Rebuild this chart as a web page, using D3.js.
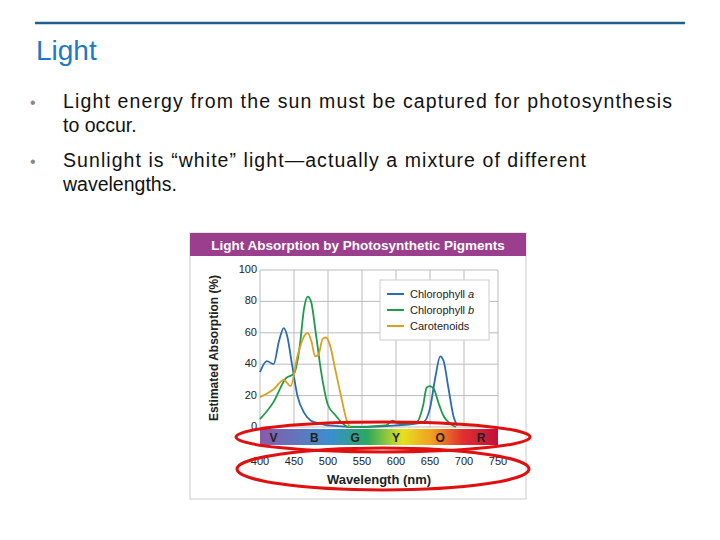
<!DOCTYPE html><html><head><meta charset="utf-8"><script src="https://cdn.jsdelivr.net/npm/d3@7"></script>
<style>body{margin:0;background:#fff}svg{font-family:Arial,"Liberation Sans",sans-serif}</style></head><body><svg id="s" width="720" height="540"></svg>
<script>
const xTicks=[400,450,500,550,600,650,700,750];
const yTicks=[0,20,40,60,80,100];
const chlA=[[400,35],[410,42],[420,40],[428,55],[435,63],[440,58],[447,40],[455,20],[465,9],[475,4],[490,2],[500,1],[550,0],[600,1],[640,3],[650,12],[658,32],[665,45],[670,42],[677,25],[685,6],[690,1]];
const chlB=[[400,5],[420,16],[438,31],[450,34],[458,50],[465,76],[470,83],[475,80],[482,60],[490,35],[500,14],[510,8],[520,3],[530,0],[585,1],[595,4],[605,2],[630,3],[640,14],[645,25],[650,26],[656,24],[662,16],[670,7],[680,2],[688,0]];
const caro=[[400,19],[420,24],[435,30],[445,26],[455,45],[465,58],[470,60],[476,54],[481,45],[486,46],[492,56],[497,57],[503,52],[510,38],[520,18],[527,5],[532,0]];
const series=[{name:"Chlorophyll ",it:"a",d:chlA,c:"#2b6cb0"},{name:"Chlorophyll ",it:"b",d:chlB,c:"#1f9a4b"},{name:"Carotenoids",it:"",d:caro,c:"#d9a021"}];
const bands=["V","B","G","Y","O","R"];
const bandPos=[420,480,540,600,665,725];
const bullets=[["Light energy from the sun must be captured for photosynthesis","to occur."],["Sunlight is \u201cwhite\u201d light\u2014actually a mixture of different","wavelengths."]];
const svg=d3.select("#s");
svg.append("line").attr("x1",35).attr("x2",685).attr("y1",23).attr("y2",23).attr("stroke","#1f5f8f").attr("stroke-width",2.5);
svg.append("text").attr("x",36).attr("y",60).attr("fill","#1d78c5").attr("font-size",28).text("Light");
bullets.forEach((b,i)=>{const y=108+i*59;
 svg.append("text").attr("x",30).attr("y",y).attr("fill","#888").attr("font-size",16).text("•");
 b.forEach((l,j)=>svg.append("text").attr("x",63).attr("y",y+j*24).attr("font-size",19.5).attr("fill","#111").attr("textLength",j==0?(i==0?609:523):null).text(l));});
svg.append("rect").attr("x",190).attr("y",233).attr("width",336).attr("height",266).attr("fill","#fff").attr("stroke","#ccc");
svg.append("rect").attr("x",190).attr("y",233).attr("width",336).attr("height",23).attr("fill","#9b3e8e");
svg.append("text").attr("x",358).attr("y",249.5).attr("text-anchor","middle").attr("fill","#fff").attr("font-weight","bold").attr("font-size",13.5).text("Light Absorption by Photosynthetic Pigments");
const x=d3.scaleLinear().domain([400,750]).range([260,498]);
const y=d3.scaleLinear().domain([0,100]).range([427,270]);
const g=svg.append("g");
xTicks.forEach(t=>g.append("line").attr("x1",x(t)).attr("x2",x(t)).attr("y1",y(100)).attr("y2",y(0)).attr("stroke","#bbb"));
yTicks.forEach(t=>g.append("line").attr("x1",x(400)).attr("x2",x(750)).attr("y1",y(t)).attr("y2",y(t)).attr("stroke","#bbb"));
yTicks.forEach(t=>g.append("text").attr("x",x(400)-3).attr("y",y(t)+3).attr("text-anchor","end").attr("font-size",11).attr("fill","#222").text(t));
xTicks.forEach(t=>g.append("text").attr("x",x(t)).attr("y",465).attr("text-anchor","middle").attr("font-size",11).attr("fill","#222").text(t));
const grad=svg.append("defs").append("linearGradient").attr("id","sp");
[["0","#8a5aa8"],["0.3","#3a8fd0"],["0.45","#2aa860"],["0.6","#e5e020"],["0.72","#f0a020"],["0.85","#e03030"],["1","#c0103a"]].forEach(s=>grad.append("stop").attr("offset",s[0]).attr("stop-color",s[1]));
g.append("rect").attr("x",x(400)).attr("y",429).attr("width",x(750)-x(400)).attr("height",16).attr("fill","url(#sp)");
bands.forEach((b,i)=>g.append("text").attr("x",x(bandPos[i])).attr("y",442).attr("text-anchor","middle").attr("font-weight","bold").attr("font-size",12).attr("fill","#222").text(b));
const line=d3.line().x(d=>x(d[0])).y(d=>y(d[1])).curve(d3.curveMonotoneX);
series.forEach(s=>g.append("path").attr("d",line(s.d)).attr("fill","none").attr("stroke",s.c).attr("stroke-width",1.8));
g.append("rect").attr("x",380).attr("y",280).attr("width",109).attr("height",60).attr("fill","#fff").attr("stroke","#ccc");
series.forEach((s,i)=>{g.append("line").attr("x1",387).attr("x2",404).attr("y1",294+i*16).attr("y2",294+i*16).attr("stroke",s.c).attr("stroke-width",2);
 const t=g.append("text").attr("x",410).attr("y",298+i*16).attr("font-size",11).attr("fill","#222").text(s.name);
 if(s.it)t.append("tspan").attr("font-style","italic").text(s.it);});
g.append("text").attr("transform","translate(218,348) rotate(-90)").attr("text-anchor","middle").attr("font-weight","bold").attr("font-size",12).attr("fill","#222").text("Estimated Absorption (%)");
g.append("text").attr("x",379).attr("y",484).attr("text-anchor","middle").attr("font-weight","bold").attr("font-size",13).attr("fill","#222").text("Wavelength (nm)");
svg.append("ellipse").attr("cx",383).attr("cy",437).attr("rx",147).attr("ry",15).attr("fill","none").attr("stroke","#e01010").attr("stroke-width",3);
svg.append("ellipse").attr("cx",383).attr("cy",469).attr("rx",146).attr("ry",21).attr("fill","none").attr("stroke","#e01010").attr("stroke-width",3);
</script></body></html>
